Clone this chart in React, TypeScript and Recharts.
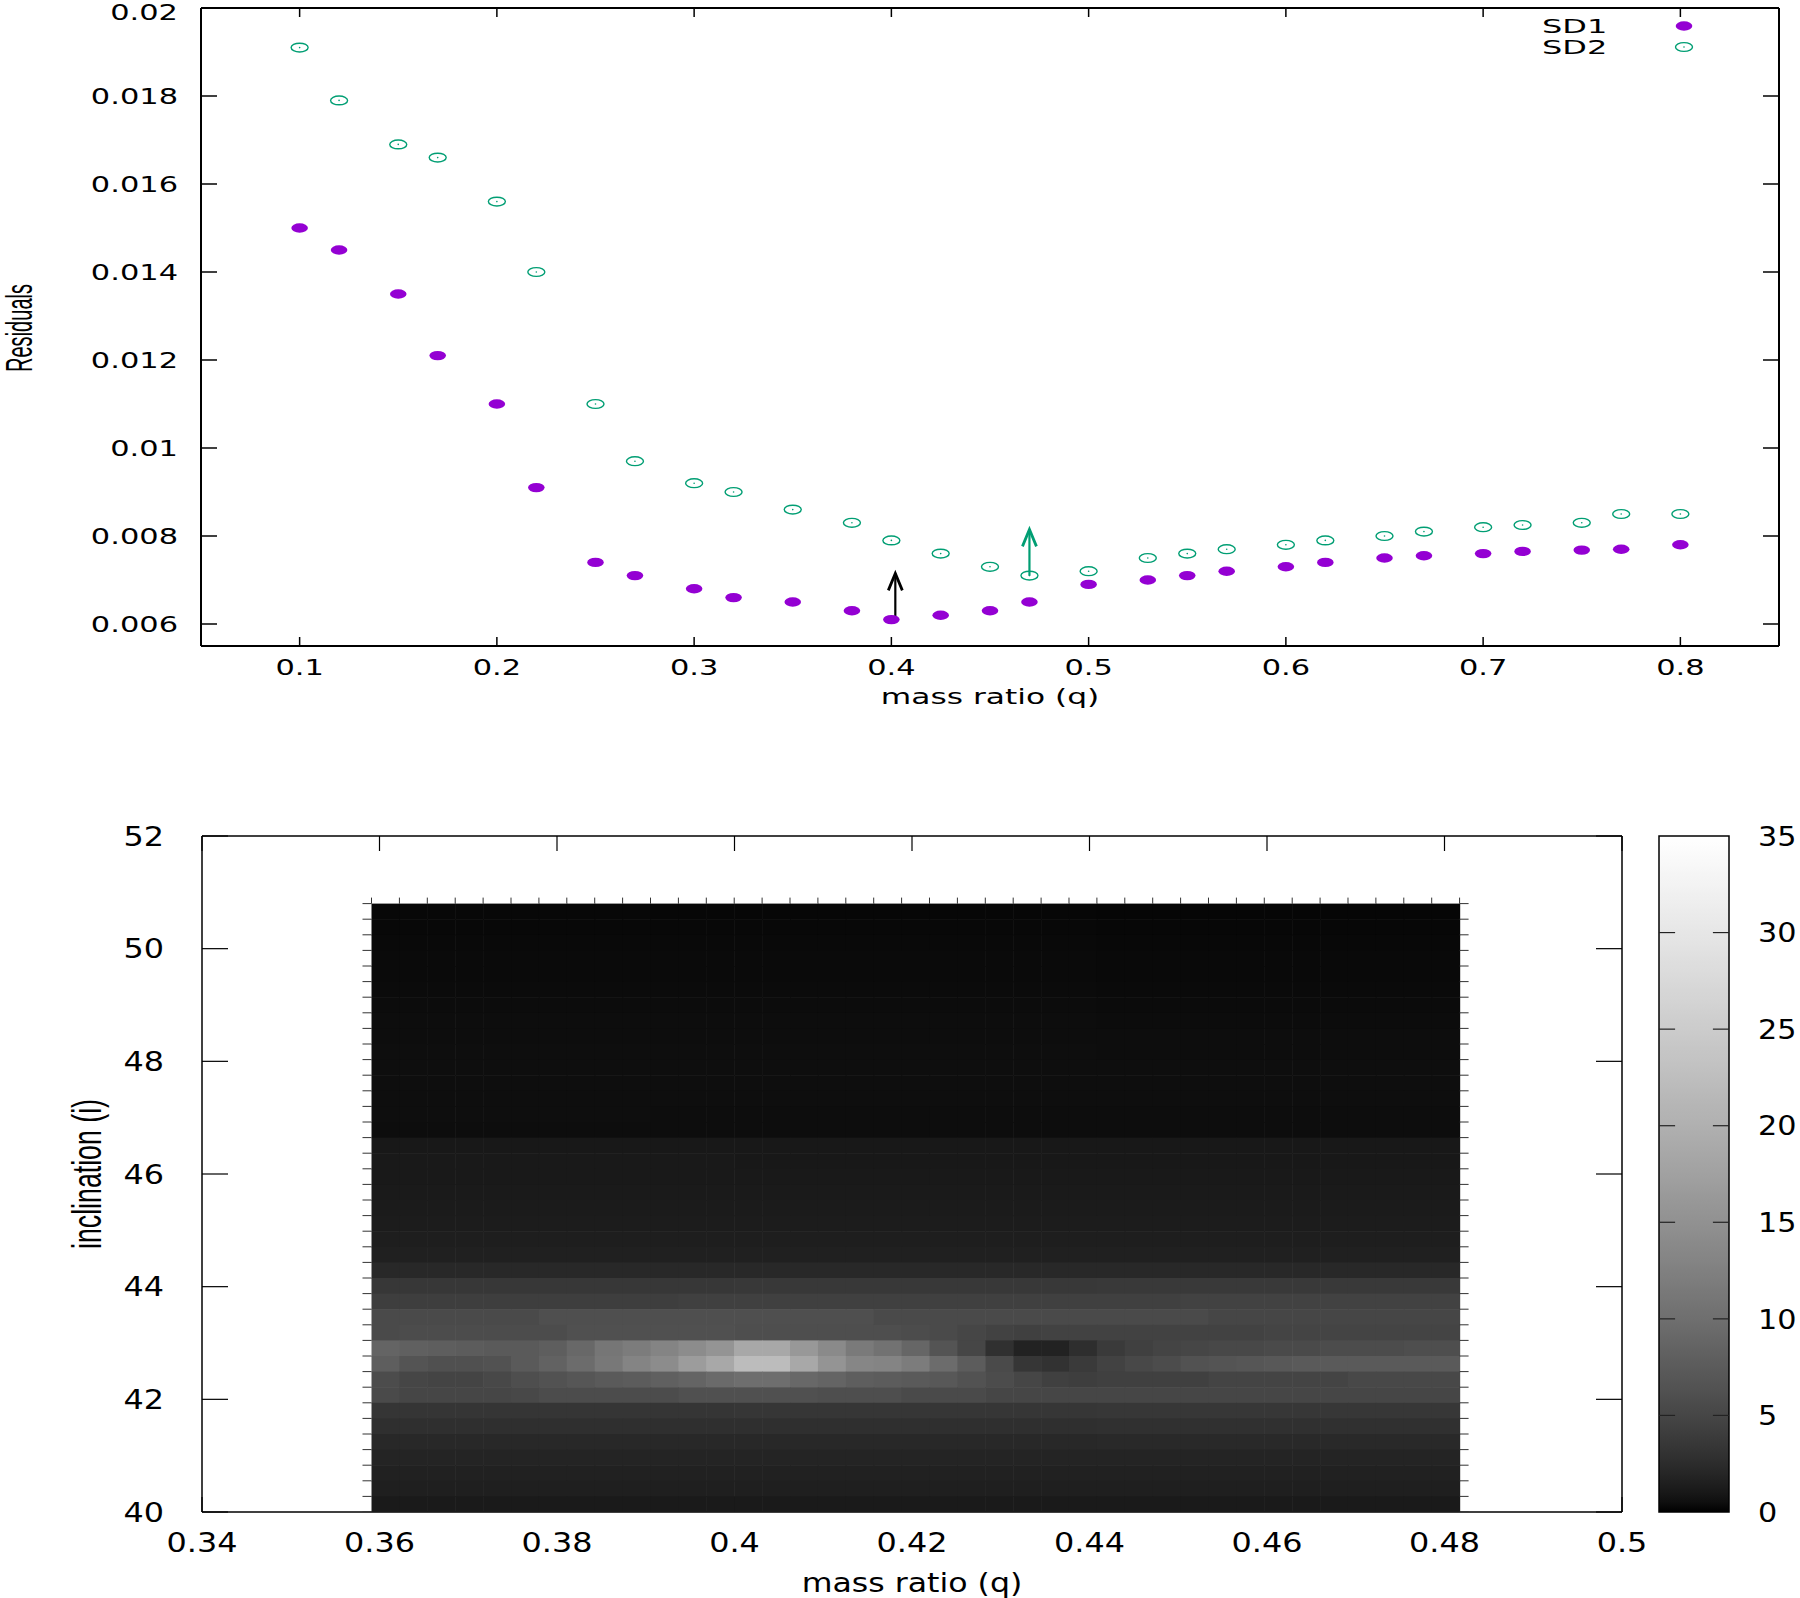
import React from "react";
import {
  ScatterChart,
  Scatter,
  XAxis,
  YAxis,
  ReferenceLine,
  ReferenceArea,
  Legend,
  Label,
} from "recharts";

// ---------- top panel: residuals against mass ratio ----------
const massRatio = [
  0.1, 0.12, 0.15, 0.17, 0.2, 0.22, 0.25, 0.27, 0.3, 0.32, 0.35, 0.38, 0.4, 0.425, 0.45,
  0.47, 0.5, 0.53, 0.55, 0.57, 0.6, 0.62, 0.65, 0.67, 0.7, 0.72, 0.75, 0.77, 0.8,
];
const sd1Residuals = [
  0.015, 0.0145, 0.0135, 0.0121, 0.011, 0.0091, 0.0074, 0.0071, 0.0068, 0.0066, 0.0065,
  0.0063, 0.0061, 0.0062, 0.0063, 0.0065, 0.0069, 0.007, 0.0071, 0.0072, 0.0073, 0.0074,
  0.0075, 0.00755, 0.0076, 0.00765, 0.00768, 0.0077, 0.0078,
];
const sd2Residuals = [
  0.0191, 0.0179, 0.0169, 0.0166, 0.0156, 0.014, 0.011, 0.0097, 0.0092, 0.009, 0.0086,
  0.0083, 0.0079, 0.0076, 0.0073, 0.0071, 0.0072, 0.0075, 0.0076, 0.0077, 0.0078, 0.0079,
  0.008, 0.0081, 0.0082, 0.00825, 0.0083, 0.0085, 0.0085,
];
const massRatioTicks = [0.1, 0.2, 0.3, 0.4, 0.5, 0.6, 0.7, 0.8];
const residualTicks = [0.006, 0.008, 0.01, 0.012, 0.014, 0.016, 0.018, 0.02];
// arrows marking the minimum of each series
const minimumArrows = [
  { q: 0.402, from: 0.00615, to: 0.00715, color: "#000000" },
  { q: 0.47, from: 0.0071, to: 0.00815, color: "#009e73" },
];

// ---------- bottom panel: residual map over q and i ----------
const mapMassRatioTicks = [0.34, 0.36, 0.38, 0.4, 0.42, 0.44, 0.46, 0.48, 0.5];
const inclinationTicks = [40, 42, 44, 46, 48, 50, 52];
const colorbarTicks = [0, 5, 10, 15, 20, 25, 30, 35];
const mapQExtent = [0.3591, 0.4817];
const mapIncExtent = [40, 50.8];
// rows run from i = 50.8 (top) down to i = 40, columns from q = 0.359 to 0.482
const residualMap = [
  [0.19,0.19,0.19,0.19,0.19,0.19,0.19,0.19,0.19,0.19,0.16,0.16,0.16,0.16,0.16,0.16,0.16,0.16,0.16,0.16,0.16,0.16,0.16,0.16,0.16,0.16,0.13,0.13,0.13,0.13,0.13,0.12,0.12,0.12,0.12,0.12,0.12,0.12,0.12],
  [0.21,0.21,0.21,0.21,0.21,0.21,0.21,0.21,0.21,0.21,0.19,0.19,0.19,0.19,0.19,0.19,0.19,0.19,0.19,0.19,0.19,0.19,0.19,0.19,0.19,0.19,0.16,0.16,0.16,0.16,0.16,0.16,0.16,0.16,0.16,0.16,0.16,0.16,0.16],
  [0.25,0.25,0.25,0.25,0.25,0.25,0.25,0.25,0.25,0.25,0.23,0.23,0.23,0.23,0.23,0.23,0.23,0.23,0.23,0.23,0.23,0.23,0.23,0.23,0.23,0.23,0.19,0.19,0.19,0.19,0.19,0.19,0.19,0.19,0.19,0.19,0.19,0.19,0.19],
  [0.28,0.28,0.28,0.28,0.28,0.28,0.28,0.28,0.28,0.28,0.27,0.27,0.27,0.27,0.27,0.27,0.27,0.27,0.27,0.27,0.27,0.27,0.27,0.27,0.27,0.27,0.23,0.23,0.23,0.23,0.23,0.23,0.23,0.23,0.23,0.23,0.23,0.23,0.23],
  [0.29,0.29,0.29,0.29,0.29,0.29,0.29,0.29,0.29,0.29,0.28,0.28,0.28,0.28,0.28,0.28,0.28,0.28,0.28,0.28,0.28,0.28,0.28,0.28,0.28,0.28,0.25,0.25,0.25,0.25,0.25,0.25,0.25,0.25,0.25,0.25,0.25,0.25,0.25],
  [0.32,0.32,0.32,0.32,0.32,0.32,0.32,0.32,0.32,0.32,0.31,0.31,0.31,0.31,0.31,0.31,0.31,0.31,0.31,0.31,0.31,0.31,0.31,0.31,0.31,0.31,0.28,0.28,0.28,0.28,0.28,0.28,0.28,0.28,0.28,0.28,0.28,0.28,0.28],
  [0.36,0.36,0.36,0.36,0.36,0.36,0.36,0.36,0.36,0.36,0.35,0.35,0.35,0.35,0.35,0.35,0.35,0.35,0.35,0.35,0.35,0.35,0.35,0.35,0.35,0.35,0.32,0.32,0.32,0.32,0.32,0.32,0.32,0.32,0.32,0.32,0.32,0.32,0.32],
  [0.4,0.4,0.4,0.4,0.4,0.4,0.4,0.4,0.4,0.4,0.39,0.39,0.39,0.39,0.39,0.39,0.39,0.39,0.39,0.39,0.39,0.39,0.39,0.39,0.39,0.39,0.36,0.36,0.36,0.36,0.36,0.36,0.36,0.36,0.36,0.36,0.36,0.36,0.36],
  [0.42,0.42,0.42,0.42,0.42,0.42,0.42,0.42,0.42,0.42,0.41,0.41,0.41,0.41,0.41,0.41,0.41,0.41,0.41,0.41,0.41,0.41,0.41,0.41,0.41,0.41,0.38,0.38,0.38,0.38,0.38,0.38,0.38,0.38,0.38,0.38,0.38,0.38,0.38],
  [0.45,0.45,0.45,0.45,0.45,0.45,0.45,0.45,0.45,0.45,0.44,0.44,0.44,0.44,0.44,0.44,0.44,0.44,0.44,0.44,0.44,0.44,0.44,0.44,0.44,0.44,0.42,0.42,0.42,0.42,0.42,0.42,0.42,0.42,0.42,0.42,0.42,0.42,0.42],
  [0.46,0.46,0.46,0.46,0.46,0.46,0.46,0.46,0.46,0.46,0.45,0.45,0.45,0.45,0.45,0.45,0.45,0.45,0.45,0.45,0.45,0.45,0.45,0.45,0.45,0.45,0.43,0.43,0.43,0.43,0.43,0.43,0.43,0.43,0.43,0.43,0.43,0.43,0.43],
  [0.47,0.47,0.47,0.47,0.47,0.47,0.47,0.47,0.47,0.47,0.46,0.46,0.46,0.46,0.46,0.46,0.46,0.46,0.46,0.46,0.46,0.46,0.46,0.46,0.46,0.46,0.44,0.44,0.44,0.44,0.44,0.44,0.44,0.44,0.44,0.44,0.44,0.44,0.44],
  [0.47,0.47,0.47,0.47,0.47,0.47,0.47,0.47,0.47,0.47,0.46,0.46,0.46,0.46,0.46,0.46,0.46,0.46,0.46,0.46,0.46,0.46,0.46,0.46,0.46,0.46,0.45,0.45,0.45,0.45,0.45,0.45,0.45,0.45,0.45,0.45,0.45,0.45,0.45],
  [0.44,0.44,0.44,0.44,0.44,0.44,0.44,0.44,0.44,0.44,0.42,0.42,0.42,0.42,0.42,0.42,0.42,0.42,0.42,0.42,0.42,0.42,0.42,0.42,0.42,0.42,0.42,0.42,0.42,0.42,0.42,0.42,0.42,0.42,0.42,0.42,0.42,0.42,0.42],
  [0.4,0.4,0.4,0.4,0.4,0.4,0.4,0.4,0.4,0.4,0.38,0.38,0.38,0.38,0.38,0.38,0.38,0.38,0.38,0.38,0.38,0.38,0.38,0.38,0.38,0.38,0.38,0.38,0.38,0.38,0.38,0.38,0.38,0.38,0.38,0.38,0.38,0.38,0.38],
  [1.03,1.03,1.03,1.03,1.03,1.03,1.03,1.03,1.03,1.03,1.03,1.03,1.03,1.01,1.01,1.01,1.01,1.01,1.01,1.01,1.01,1.01,1.01,1.01,1.01,1.01,1.01,1.01,1.01,1.01,1.01,1.01,1.01,1.01,1.01,1.01,1.01,1.01,1.01],
  [1.05,1.05,1.05,1.05,1.05,1.05,1.05,1.05,1.05,1.05,1.05,1.05,1.05,1.03,1.03,1.03,1.03,1.03,1.03,1.03,1.03,1.03,1.03,1.03,1.03,1.03,1.03,1.03,1.03,1.03,1.03,1.03,1.03,1.03,1.03,1.03,1.03,1.03,1.03],
  [1.1,1.1,1.1,1.1,1.1,1.1,1.1,1.1,1.1,1.1,1.1,1.1,1.1,1.07,1.07,1.07,1.07,1.07,1.07,1.07,1.07,1.07,1.07,1.07,1.07,1.07,1.08,1.08,1.08,1.08,1.08,1.08,1.08,1.08,1.08,1.08,1.08,1.08,1.08],
  [1.16,1.16,1.16,1.16,1.16,1.16,1.16,1.16,1.16,1.16,1.16,1.16,1.16,1.13,1.13,1.13,1.13,1.13,1.13,1.13,1.13,1.13,1.13,1.13,1.13,1.13,1.14,1.14,1.14,1.14,1.14,1.14,1.14,1.14,1.14,1.14,1.14,1.14,1.14],
  [1.22,1.22,1.22,1.22,1.22,1.22,1.22,1.22,1.22,1.22,1.22,1.22,1.22,1.2,1.2,1.2,1.2,1.2,1.2,1.2,1.2,1.2,1.2,1.2,1.2,1.2,1.22,1.22,1.22,1.22,1.22,1.22,1.22,1.22,1.22,1.22,1.22,1.22,1.22],
  [1.29,1.29,1.29,1.29,1.29,1.29,1.29,1.29,1.29,1.29,1.29,1.29,1.29,1.26,1.26,1.26,1.26,1.26,1.26,1.26,1.26,1.26,1.26,1.26,1.26,1.26,1.28,1.28,1.28,1.28,1.28,1.28,1.28,1.28,1.28,1.28,1.28,1.28,1.28],
  [1.42,1.42,1.42,1.42,1.42,1.42,1.42,1.42,1.42,1.42,1.42,1.42,1.42,1.4,1.4,1.4,1.4,1.4,1.4,1.4,1.4,1.4,1.4,1.4,1.4,1.4,1.42,1.42,1.42,1.42,1.42,1.42,1.42,1.42,1.42,1.42,1.42,1.42,1.42],
  [1.58,1.58,1.58,1.58,1.58,1.58,1.58,1.58,1.58,1.58,1.58,1.58,1.58,1.55,1.55,1.55,1.55,1.55,1.55,1.55,1.55,1.55,1.55,1.55,1.55,1.55,1.58,1.58,1.58,1.58,1.58,1.58,1.58,1.58,1.58,1.58,1.58,1.58,1.58],
  [2.2,2.2,2.2,2.2,2.2,2.2,2.2,2.2,2.2,2.2,2.2,2.2,2.2,2.15,2.15,2.15,2.15,2.15,2.15,2.15,2.15,2.15,2.15,2.15,2.15,2.15,2.2,2.2,2.2,2.2,2.2,2.2,2.2,2.2,2.2,2.2,2.2,2.2,2.2],
  [3.5,3.5,3.5,3.5,3.5,3.5,3.5,3.5,3.5,3.5,3.5,3.5,3.5,3.6,3.6,3.6,3.6,3.6,3.6,3.6,3.6,3.6,3.6,3.6,3.6,3.6,3.7,3.7,3.7,3.7,3.7,3.7,3.7,3.7,3.7,3.7,3.7,3.7,3.7],
  [4.2,4.2,4.2,4.2,4.2,4.2,4.2,4.2,4.2,4.2,4.2,4.4,4.4,4.4,4.4,4.4,4.4,4.4,4.4,4.4,4.4,4.4,4.4,4.4,4.4,4.4,4.4,4.4,4.4,4.6,4.6,4.6,4.6,4.6,4.6,4.6,4.6,4.6,4.6],
  [5.47,5.47,5.47,5.47,5.47,5.47,6.0,6.0,6.0,6.0,6.0,6.0,6.0,6.0,6.0,6.0,6.0,6.0,5.47,5.47,5.47,5.47,5.47,5.47,5.47,5.47,5.47,5.47,5.47,5.47,5.03,5.03,5.03,5.03,5.03,5.03,5.03,5.03,5.03],
  [5.47,5.7,5.7,5.7,5.7,5.7,5.7,6.15,6.15,6.15,6.15,6.15,6.15,5.92,5.92,5.92,5.92,5.92,5.92,5.7,5.47,5.03,4.61,4.4,4.61,4.61,4.61,4.61,4.61,4.61,4.61,4.61,4.82,4.82,4.82,4.82,4.82,4.82,4.82],
  [8.6,8.08,7.83,7.58,7.34,7.34,7.83,9.12,11.02,11.87,13.03,14.24,15.48,18.72,18.72,16.11,13.93,11.58,10.5,8.85,6.6,5.0,2.86,1.7,1.7,2.68,3.8,4.4,4.82,5.03,5.25,5.25,5.47,5.47,5.7,5.7,5.7,5.92,5.92],
  [7.83,6.62,6.15,6.15,6.38,7.34,8.34,9.65,11.3,13.03,14.24,16.75,18.72,22.16,22.16,18.72,15.48,13.33,13.0,11.87,9.65,7.58,5.47,3.4,3.04,3.8,4.61,5.25,5.7,6.38,6.62,6.86,7.1,7.34,7.34,7.34,7.34,7.34,7.34],
  [5.7,5.03,4.82,4.82,5.25,5.92,6.38,6.86,7.34,7.58,8.08,8.6,9.38,9.92,9.92,9.12,8.6,7.83,7.58,7.34,7.1,6.38,5.7,5.03,4.4,4.2,4.4,4.4,4.4,4.4,4.82,4.82,4.82,4.82,4.82,5.25,5.25,5.25,5.25],
  [5.47,5.03,5.03,5.03,5.03,5.25,5.7,5.7,5.7,5.7,5.7,6.15,6.15,6.15,6.15,6.15,5.92,5.92,5.92,5.47,5.47,5.47,5.03,5.03,5.03,5.03,5.03,5.03,5.03,5.03,5.03,5.03,5.03,5.03,5.03,5.03,5.03,5.03,5.03],
  [3.3,3.3,3.3,3.3,3.3,3.3,3.3,3.3,3.3,3.3,3.3,3.3,3.3,3.4,3.4,3.4,3.4,3.4,3.4,3.4,3.4,3.4,3.4,3.4,3.4,3.4,3.5,3.5,3.5,3.5,3.5,3.5,3.5,3.5,3.5,3.5,3.5,3.5,3.5],
  [2.75,2.75,2.75,2.75,2.75,2.75,2.75,2.75,2.75,2.75,2.75,2.75,2.75,2.8,2.8,2.8,2.8,2.8,2.8,2.8,2.8,2.8,2.8,2.8,2.8,2.8,2.85,2.85,2.85,2.85,2.85,2.85,2.85,2.85,2.85,2.85,2.85,2.85,2.85],
  [2.15,2.15,2.15,2.15,2.15,2.15,2.15,2.15,2.15,2.15,2.15,2.15,2.15,2.2,2.2,2.2,2.2,2.2,2.2,2.2,2.2,2.2,2.2,2.2,2.2,2.2,2.25,2.25,2.25,2.25,2.25,2.25,2.25,2.25,2.25,2.25,2.25,2.25,2.25],
  [1.82,1.82,1.82,1.82,1.82,1.82,1.82,1.82,1.82,1.82,1.82,1.82,1.82,1.85,1.85,1.85,1.85,1.85,1.85,1.85,1.85,1.85,1.85,1.85,1.85,1.85,1.88,1.88,1.88,1.88,1.88,1.88,1.88,1.88,1.88,1.88,1.88,1.88,1.88],
  [1.62,1.62,1.62,1.62,1.62,1.62,1.62,1.62,1.62,1.62,1.62,1.62,1.62,1.63,1.63,1.63,1.63,1.63,1.63,1.63,1.63,1.63,1.63,1.63,1.63,1.63,1.66,1.66,1.66,1.66,1.66,1.66,1.66,1.66,1.66,1.66,1.66,1.66,1.66],
  [1.46,1.46,1.46,1.46,1.46,1.46,1.46,1.46,1.46,1.46,1.46,1.46,1.46,1.48,1.48,1.48,1.48,1.48,1.48,1.48,1.48,1.48,1.48,1.48,1.48,1.48,1.5,1.5,1.5,1.5,1.5,1.5,1.5,1.5,1.5,1.5,1.5,1.5,1.5],
  [1.12,1.12,1.12,1.12,1.12,1.12,1.12,1.12,1.12,1.12,1.12,1.12,1.12,1.14,1.14,1.14,1.14,1.14,1.14,1.14,1.14,1.14,1.14,1.14,1.14,1.14,1.16,1.16,1.16,1.16,1.16,1.16,1.16,1.16,1.16,1.16,1.16,1.16,1.16],
];

// ---------- styling / layout ----------
const SD1_COLOR = "#9400d3";
const SD2_COLOR = "#009e73";
const FONT = "'DejaVu Sans', sans-serif";
const LABEL_FONT = "'Liberation Sans', Arial, sans-serif";
const CB_MAX = 35;

// plot boxes (chart-local pixels)
const TOP = { left: 201, right: 1779, top: 8, bottom: 646 };
const MAP = { left: 202, right: 1622, top: 116, bottom: 792 };

// gnuplot grey palette with gamma 1.5
function grayFor(v: number) {
  const t = Math.max(0, Math.min(1, v / CB_MAX));
  const g = Math.round(255 * Math.pow(t, 1 / 1.5));
  return `rgb(${g},${g},${g})`;
}

const sd1Data = massRatio.map((q, i) => ({ q, r: sd1Residuals[i] }));
const sd2Data = massRatio.map((q, i) => ({ q, r: sd2Residuals[i] }));

const nRows = residualMap.length;
const nCols = residualMap[0].length;
const dq = (mapQExtent[1] - mapQExtent[0]) / nCols;
const di = (mapIncExtent[1] - mapIncExtent[0]) / nRows;
const mapCells = residualMap.flatMap((row, r) =>
  row.map((v, c) => ({
    q: mapQExtent[0] + (c + 0.5) * dq,
    inc: mapIncExtent[1] - (r + 0.5) * di,
    v,
    r,
    c,
  }))
);
const cellW = (dq * (MAP.right - MAP.left)) / 0.16;
const cellH = (di * (MAP.bottom - MAP.top)) / 12;

const NoLabel = () => <g />;
// inward tick at the top border: only the top end of a vertical reference line
const topTickShape = (len: number, width: number) => (p: any) => {
  const top = Math.min(p.y1, p.y2);
  return <line x1={p.x1} x2={p.x1} y1={top} y2={top + len} stroke="#000" strokeWidth={width} />;
};

function StretchText({ x, y, sx, size, anchor = "middle", children }: any) {
  return (
    <text
      transform={`translate(${x} ${y}) scale(${sx} 1)`}
      textAnchor={anchor}
      fontSize={size}
      fontFamily={FONT}
      fill="#000"
    >
      {children}
    </text>
  );
}

function RotatedLabel({ x, y, size, length, children }: any) {
  return (
    <text
      transform={`translate(${x} ${y}) rotate(-90)`}
      textAnchor="middle"
      fontSize={size}
      fontFamily={LABEL_FONT}
      textLength={length}
      lengthAdjust="spacingAndGlyphs"
      fill="#000"
    >
      {children}
    </text>
  );
}

const Sd1Dot = (p: any) => (
  <ellipse cx={p.cx} cy={p.cy} rx={8.3} ry={4.7} fill={SD1_COLOR} />
);
const Sd2Dot = (p: any) => (
  <g>
    <ellipse cx={p.cx} cy={p.cy} rx={8.5} ry={4.4} fill="none" stroke={SD2_COLOR} strokeWidth={1.4} />
    <circle cx={p.cx} cy={p.cy} r={0.8} fill={SD2_COLOR} />
  </g>
);

const arrowShape = (color: string) => (p: any) => {
  const { x1, y1, x2, y2 } = p;
  const len = Math.hypot(x2 - x1, y2 - y1) || 1;
  const ux = (x2 - x1) / len;
  const uy = (y2 - y1) / len;
  const bx = x2 - ux * 17;
  const by = y2 - uy * 17;
  const hw = 7;
  return (
    <g>
      <line x1={x1} y1={y1} x2={x2} y2={y2} stroke={color} strokeWidth={2.2} />
      <polyline
        points={`${bx - uy * hw},${by + ux * hw} ${x2},${y2} ${bx + uy * hw},${by - ux * hw}`}
        fill="none"
        stroke={color}
        strokeWidth={2.8}
      />
    </g>
  );
};

const SdLegend = () => (
  <svg width={260} height={60} style={{ display: "block" }}>
    <StretchText x={22} y={33} sx={1.6} size={20} anchor="start">SD1</StretchText>
    <ellipse cx={164} cy={26} rx={8.3} ry={4.7} fill={SD1_COLOR} />
    <StretchText x={22} y={54} sx={1.6} size={20} anchor="start">SD2</StretchText>
    <ellipse cx={164} cy={47} rx={8.5} ry={4.4} fill="none" stroke={SD2_COLOR} strokeWidth={1.4} />
    <circle cx={164} cy={47} r={0.8} fill={SD2_COLOR} />
  </svg>
);

function ResidualsChart() {
  const axisCommon = {
    type: "number" as const,
    allowDataOverflow: true,
    interval: 0 as const,
    stroke: "#000",
    axisLine: { stroke: "#000", strokeWidth: 2 },
    tickLine: { stroke: "#000", strokeWidth: 1.5 },
  };
  return (
    <ScatterChart width={1800} height={720} margin={{ top: 7, right: 20, bottom: 14, left: 0 }}>
      <Scatter data={sd2Data} shape={Sd2Dot} isAnimationActive={false} />
      <Scatter data={sd1Data} shape={Sd1Dot} isAnimationActive={false} />
      {minimumArrows.map((a) => (
        <ReferenceLine
          key={a.q}
          segment={[{ x: a.q, y: a.from }, { x: a.q, y: a.to }]}
          shape={arrowShape(a.color)}
        />
      ))}
      {massRatioTicks.map((t) => (
        <ReferenceLine key={`tt${t}`} x={t} shape={topTickShape(9, 1.5)} />
      ))}
      <XAxis
        {...axisCommon}
        dataKey="q"
        domain={[0.05, 0.85]}
        ticks={massRatioTicks}
        height={60}
        tickSize={-9}
        tick={(p: any) => (
          <StretchText x={p.x} y={TOP.bottom + 28.5} sx={1.45} size={21}>
            {String(p.payload.value)}
          </StretchText>
        )}
      >
        <Label
          content={() => (
            <StretchText x={(TOP.left + TOP.right) / 2} y={703.5} sx={1.49} size={21}>
              mass ratio (q)
            </StretchText>
          )}
        />
      </XAxis>
      <YAxis
        {...axisCommon}
        dataKey="r"
        domain={[0.0055, 0.02]}
        ticks={residualTicks}
        width={201}
        tickSize={-16}
        tick={(p: any) => (
          <StretchText x={178} y={Math.max(p.y + 7.5, 20)} sx={1.45} size={21} anchor="end">
            {String(p.payload.value)}
          </StretchText>
        )}
      >
        <Label
          content={() => (
            <RotatedLabel x={32} y={328} size={37} length={88}>
              Residuals
            </RotatedLabel>
          )}
        />
      </YAxis>
      <XAxis
        {...axisCommon}
        xAxisId="top"
        orientation="top"
        domain={[0.05, 0.85]}
        ticks={massRatioTicks}
        height={1}
        tickLine={false}
        tick={NoLabel}
      />
      <YAxis
        {...axisCommon}
        yAxisId="right"
        orientation="right"
        domain={[0.0055, 0.02]}
        ticks={residualTicks}
        width={1}
        tickSize={-16}
        tick={NoLabel}
      />
      <Legend
        layout="vertical"
        align="center"
        verticalAlign="middle"
        content={() => <SdLegend />}
        wrapperStyle={{ left: 1520, top: 0, width: 260, height: 60 }}
      />
    </ScatterChart>
  );
}

const HeatCell = (p: any) => {
  const { cx, cy, payload } = p;
  const x0 = cx - cellW / 2;
  const x1 = cx + cellW / 2;
  const y0 = cy - cellH / 2;
  const y1 = cy + cellH / 2;
  const marks: any[] = [];
  const tk = { stroke: "#333", strokeWidth: 1 };
  const lastCol = payload.c === nCols - 1;
  const lastRow = payload.r === nRows - 1;
  if (payload.r === 0) {
    marks.push(<line key="t0" x1={x0} y1={y0} x2={x0} y2={y0 - 6} {...tk} />);
    if (lastCol) marks.push(<line key="t1" x1={x1} y1={y0} x2={x1} y2={y0 - 6} {...tk} />);
  }
  if (lastRow) {
    marks.push(<line key="b0" x1={x0} y1={y1} x2={x0} y2={y1 + 6} {...tk} />);
    if (lastCol) marks.push(<line key="b1" x1={x1} y1={y1} x2={x1} y2={y1 + 6} {...tk} />);
  }
  if (payload.c === 0) {
    marks.push(<line key="l0" x1={x0} y1={y0} x2={x0 - 9} y2={y0} {...tk} />);
    if (lastRow) marks.push(<line key="l1" x1={x0} y1={y1} x2={x0 - 9} y2={y1} {...tk} />);
  }
  if (lastCol) {
    marks.push(<line key="r0" x1={x1} y1={y0} x2={x1 + 9} y2={y0} {...tk} />);
    if (lastRow) marks.push(<line key="r1" x1={x1} y1={y1} x2={x1 + 9} y2={y1} {...tk} />);
  }
  return (
    <g>
      <rect x={x0} y={y0} width={cellW + 0.6} height={cellH + 0.6} fill={grayFor(payload.v)} />
      {marks}
    </g>
  );
};

function MapChart() {
  const axisCommon = {
    type: "number" as const,
    allowDataOverflow: true,
    interval: 0 as const,
    stroke: "#000",
    axisLine: { stroke: "#000", strokeWidth: 1.5 },
    tickLine: { stroke: "#000", strokeWidth: 1.2 },
  };
  return (
    <ScatterChart width={1800} height={878} margin={{ top: 115, right: 177, bottom: 6, left: 0 }}>
      <Scatter data={mapCells} shape={HeatCell} isAnimationActive={false} />
      {mapMassRatioTicks.map((t) => (
        <ReferenceLine key={`tt${t}`} x={t} shape={topTickShape(15, 1.2)} />
      ))}
      <XAxis
        {...axisCommon}
        dataKey="q"
        domain={[0.34, 0.5]}
        ticks={mapMassRatioTicks}
        height={80}
        tickSize={-15}
        tick={(p: any) => (
          <StretchText x={p.x} y={MAP.bottom + 40} sx={1.18} size={27}>
            {String(p.payload.value)}
          </StretchText>
        )}
      >
        <Label
          content={() => (
            <StretchText x={(MAP.left + MAP.right) / 2} y={872} sx={1.17} size={27}>
              mass ratio (q)
            </StretchText>
          )}
        />
      </XAxis>
      <YAxis
        {...axisCommon}
        dataKey="inc"
        domain={[40, 52]}
        ticks={inclinationTicks}
        width={202}
        tickSize={-26}
        tick={(p: any) => (
          <StretchText x={164} y={p.y + 9.75} sx={1.18} size={27} anchor="end">
            {String(p.payload.value)}
          </StretchText>
        )}
      >
        <Label
          content={() => (
            <RotatedLabel x={101} y={454} size={41} length={150}>
              inclination (i)
            </RotatedLabel>
          )}
        />
      </YAxis>
      <XAxis
        {...axisCommon}
        xAxisId="top"
        orientation="top"
        domain={[0.34, 0.5]}
        ticks={mapMassRatioTicks}
        height={1}
        tickLine={false}
        tick={NoLabel}
      />
      <YAxis
        {...axisCommon}
        yAxisId="right"
        orientation="right"
        domain={[40, 52]}
        ticks={inclinationTicks}
        width={1}
        tickSize={-26}
        tick={NoLabel}
      />
    </ScatterChart>
  );
}

const GradientBar = (p: any) => {
  const stops = [];
  for (let k = 0; k <= 70; k++) {
    const v = (k / 70) * CB_MAX;
    stops.push(<stop key={k} offset={`${(k / 70) * 100}%`} stopColor={grayFor(v)} />);
  }
  return (
    <g>
      <defs>
        <linearGradient id="cbGrad" x1="0" y1="1" x2="0" y2="0">
          {stops}
        </linearGradient>
      </defs>
      <rect x={p.x} y={p.y} width={p.width} height={p.height} fill="url(#cbGrad)" />
    </g>
  );
};

function ColorbarChart() {
  return (
    <ScatterChart width={178} height={878} margin={{ top: 116, right: 0, bottom: 86, left: 37 }}>
      <XAxis type="number" dataKey="x" domain={[0, 1]} hide allowDataOverflow />
      <YAxis
        type="number"
        domain={[0, CB_MAX]}
        ticks={colorbarTicks}
        interval={0}
        orientation="right"
        width={71}
        axisLine={false}
        tickLine={false}
        tickSize={0}
        tickMargin={29}
        allowDataOverflow
        tick={(p: any) => (
          <StretchText x={p.x} y={p.y + 9.75} sx={1.12} size={27} anchor="start">
            {String(p.payload.value)}
          </StretchText>
        )}
      />
      <ReferenceArea x1={0} x2={1} y1={0} y2={CB_MAX} shape={GradientBar} />
      {colorbarTicks
        .filter((t) => t > 0 && t < CB_MAX)
        .map((t) => (
          <ReferenceLine key={`l${t}`} segment={[{ x: 0, y: t }, { x: 0.23, y: t }]} stroke="#222" strokeWidth={1.2} />
        ))}
      {colorbarTicks
        .filter((t) => t > 0 && t < CB_MAX)
        .map((t) => (
          <ReferenceLine key={`r${t}`} segment={[{ x: 0.77, y: t }, { x: 1, y: t }]} stroke="#222" strokeWidth={1.2} />
        ))}
      <ReferenceArea
        x1={0}
        x2={1}
        y1={0}
        y2={CB_MAX}
        fill="none"
        fillOpacity={0}
        stroke="#000"
        strokeWidth={1.5}
      />
    </ScatterChart>
  );
}

export default function App() {
  return (
    <div style={{ position: "absolute", left: 0, top: 0, width: 1800, height: 1598, background: "#fff" }}>
      <div style={{ position: "absolute", left: 0, top: 0 }}>
        <ResidualsChart />
      </div>
      <div style={{ position: "absolute", left: 0, top: 720 }}>
        <MapChart />
      </div>
      <div style={{ position: "absolute", left: 1622, top: 720 }}>
        <ColorbarChart />
      </div>
    </div>
  );
}
